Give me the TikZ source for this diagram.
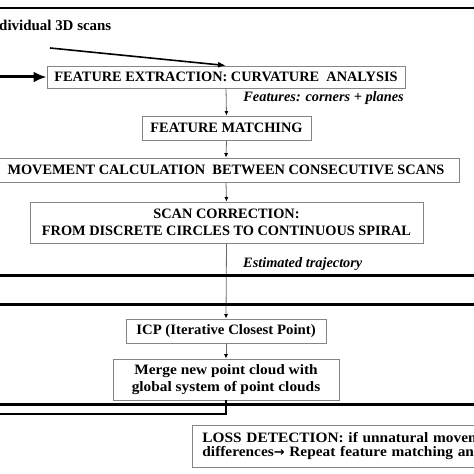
\documentclass[tikz,border=0pt]{standalone}
\usepackage{fontspec}
\setmainfont{Liberation Serif}
\newfontfamily\widefont[FakeStretch=1.07]{Liberation Serif}
\newfontfamily\semiwidefont[FakeStretch=1.03]{Liberation Serif}
\newfontfamily\arrowfont{DejaVu Sans}
\usetikzlibrary{arrows.meta}
\definecolor{boxgray}{HTML}{858585}
\definecolor{linegray}{HTML}{6A6A6A}
\begin{document}
\begin{tikzpicture}[x=1bp,y=-1bp,
  box/.style={draw=boxgray, line width=0.9bp, inner sep=0pt, align=center,
    font=\fontsize{14.4}{17}\selectfont\bfseries},
  lbl/.style={inner sep=0pt, font=\fontsize{14.4}{17}\selectfont\bfseries\itshape},
  conn/.style={draw=linegray, line width=0.8bp, -{Latex[length=4.5bp,width=4bp,color=black]}},
  band/.style={line width=2.2bp, black},
  bigarrow/.style={line width=3bp, -{Latex[length=13bp,width=11bp]}},
  midarrow/.style={line width=1.6bp, -{Latex[length=8bp,width=6bp]}}]
\useasboundingbox (0,0) rectangle (474,474);
\clip (0,0) rectangle (474,474);
\fill[white] (0,0) rectangle (474,474);

% nodes
\node[box, minimum width=358bp, minimum height=22bp] (fe) at (226,77)
  {FEATURE EXTRACTION: CURVATURE\ \ ANALYSIS};
\node[box, minimum width=169bp, minimum height=24bp] (fm) at (226.5,128)
  {FEATURE MATCHING};
\node[box, minimum width=466bp, minimum height=24bp] (mc) at (226,170)
  {MOVEMENT CALCULATION\ \ BETWEEN CONSECUTIVE SCANS};
\node[box, minimum width=393bp, minimum height=41bp] (sc) at (226.5,222.5)
  {SCAN CORRECTION:\\FROM DISCRETE CIRCLES TO CONTINUOUS SPIRAL};
\node[box, minimum width=200bp, minimum height=24bp,
  font=\semiwidefont\fontsize{14.4}{17}\selectfont\bfseries] (icp) at (226,331)
  {ICP (Iterative Closest Point)};
\node[box, minimum width=226bp, minimum height=41bp,
  font=\widefont\fontsize{14.4}{17}\selectfont\bfseries] (mg) at (226,379.5)
  {Merge new point cloud with\\global system of point clouds};
\node[box, anchor=west, align=left, text width=340bp, inner xsep=10bp,
  minimum height=42bp, font=\widefont\fontsize{14.4}{13.5}\selectfont\bfseries] (ld) at (192,446)
  {LOSS DETECTION: if unnatural moveme\\differences{\arrowfont\bfseries\fontsize{13}{13}\selectfont →} Repeat feature matching an};

\node[lbl, anchor=east] (featlbl) at (404,98) {Features: corners + planes};
\node[lbl, anchor=west] (trajlbl) at (243,264) {Estimated trajectory};
\node[inner sep=0pt, anchor=west, font=\fontsize{15}{17}\selectfont\bfseries] (indiv) at (-1,25)
  {dividual 3D scans};

% free ends
\coordinate (scanin) at (50,48);
\coordinate (leftin) at (0,77);
\coordinate (fbend) at (0,414);

% connectors
\draw[conn] (fe.south) -- (fm.north);
\draw[conn] (fm.south) -- (mc.north);
\draw[conn] (mc.south) -- (sc.north);
\draw[conn] (sc.south) -- (icp.north);
\draw[conn] (icp.south) -- (mg.north);

% input arrows
\draw[midarrow] (scanin) -- (fe.north);
\draw[bigarrow] (leftin) -- (fe.west);

% thick separator lines
\draw[band] (0,8) -- (474,8);
\draw[band] (0,275.5) -- (474,275.5);
\draw[band] (0,304.5) -- (474,304.5);
\draw[band] (0,404.5) -- (474,404.5);
\draw[line width=2.6bp] (mg.south) |- (fbend);
\end{tikzpicture}
\end{document}
